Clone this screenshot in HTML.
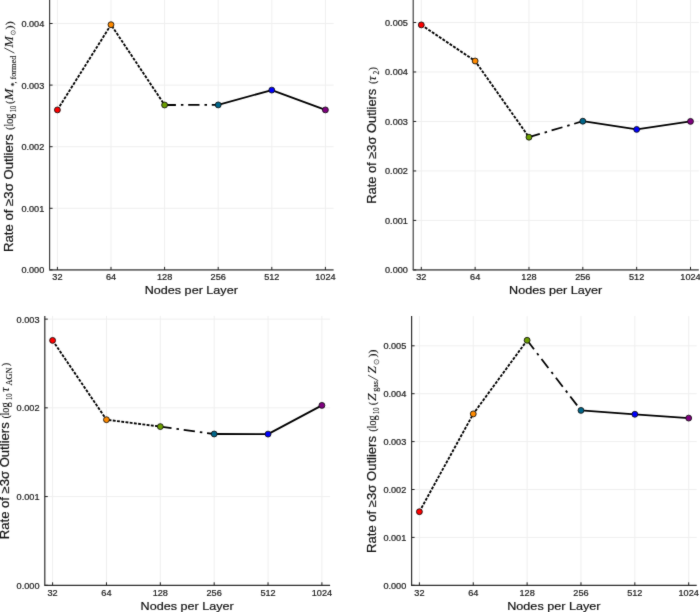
<!DOCTYPE html><html><head><meta charset="utf-8"><style>html,body{margin:0;padding:0;background:#fff;}svg{display:block;will-change:transform;}text{font-family:"Liberation Sans",sans-serif;stroke:#222;stroke-width:0.22px;}.s{font-family:"Liberation Serif",serif;stroke:#111;stroke-width:0.12px;}.i{font-style:italic;}</style></head><body>
<svg width="700" height="612" viewBox="0 0 700 612">
<defs><filter id="bl" filterUnits="userSpaceOnUse" x="0" y="0" width="700" height="612" color-interpolation-filters="sRGB"><feConvolveMatrix order="3" kernelMatrix="0.015 0.07 0.015 0.07 0.66 0.07 0.015 0.07 0.015" preserveAlpha="false" edgeMode="duplicate"/></filter></defs><g filter="url(#bl)">
<rect width="700" height="612" fill="#fff"/>
<path d="M57.4 -1V269.9M111 -1V269.9M164.6 -1V269.9M218.2 -1V269.9M271.8 -1V269.9M325.4 -1V269.9M49.6 208.3H333.6M49.6 146.7H333.6M49.6 85.1H333.6M49.6 23.5H333.6" stroke="#efefef" stroke-width="1.0" fill="none"/>
<path d="M49.6 -1V269.9" stroke="#383838" stroke-width="1.15" fill="none"/>
<path d="M49.1 269.9H333.6" stroke="#6a6a6a" stroke-width="1.8" fill="none"/>
<path d="M57.4 269.9v-3M111 269.9v-3M164.6 269.9v-3M218.2 269.9v-3M271.8 269.9v-3M325.4 269.9v-3M49.6 269.9h3M49.6 208.3h3M49.6 146.7h3M49.6 85.1h3M49.6 23.5h3" stroke="#222" stroke-width="1" fill="none"/>
<text x="52.31" y="280.4" font-size="8.6" fill="#222" textLength="10.18" lengthAdjust="spacingAndGlyphs">32</text>
<text x="105.91" y="280.4" font-size="8.6" fill="#222" textLength="10.18" lengthAdjust="spacingAndGlyphs">64</text>
<text x="156.97" y="280.4" font-size="8.6" fill="#222" textLength="15.27" lengthAdjust="spacingAndGlyphs">128</text>
<text x="210.57" y="280.4" font-size="8.6" fill="#222" textLength="15.27" lengthAdjust="spacingAndGlyphs">256</text>
<text x="264.17" y="280.4" font-size="8.6" fill="#222" textLength="15.27" lengthAdjust="spacingAndGlyphs">512</text>
<text x="315.22" y="280.4" font-size="8.6" fill="#222" textLength="20.36" lengthAdjust="spacingAndGlyphs">1024</text>
<text x="21.4" y="273.35" font-size="8.6" fill="#222" textLength="22.9" lengthAdjust="spacingAndGlyphs">0.000</text>
<text x="21.4" y="211.75" font-size="8.6" fill="#222" textLength="22.9" lengthAdjust="spacingAndGlyphs">0.001</text>
<text x="21.4" y="150.15" font-size="8.6" fill="#222" textLength="22.9" lengthAdjust="spacingAndGlyphs">0.002</text>
<text x="21.4" y="88.55" font-size="8.6" fill="#222" textLength="22.9" lengthAdjust="spacingAndGlyphs">0.003</text>
<text x="21.4" y="26.95" font-size="8.6" fill="#222" textLength="22.9" lengthAdjust="spacingAndGlyphs">0.004</text>
<text x="144.7" y="294.3" font-size="11.7" fill="#111" textLength="93.2" lengthAdjust="spacingAndGlyphs">Nodes per Layer</text>
<path d="M57.4 109.9 L111 24.7 L164.6 105" stroke="#000" stroke-width="1.85" fill="none" stroke-dasharray="2.9 1.36"/>
<path d="M164.6 105 L218.2 104.9" stroke="#000" stroke-width="1.8" fill="none" stroke-dasharray="11.3 5 2.5 4.8"/>
<path d="M218.2 104.9 L271.8 90.1 L325.4 109.9" stroke="#000" stroke-width="1.8" fill="none" stroke-linejoin="round"/>
<circle cx="57.4" cy="109.9" r="2.95" fill="#ff0000" stroke="#111" stroke-width="0.85"/>
<circle cx="111" cy="24.7" r="2.95" fill="#ff8a00" stroke="#111" stroke-width="0.85"/>
<circle cx="164.6" cy="105" r="2.95" fill="#6b9e00" stroke="#111" stroke-width="0.85"/>
<circle cx="218.2" cy="104.9" r="2.95" fill="#00668a" stroke="#111" stroke-width="0.85"/>
<circle cx="271.8" cy="90.1" r="2.95" fill="#0000ff" stroke="#111" stroke-width="0.85"/>
<circle cx="325.4" cy="109.9" r="2.95" fill="#800080" stroke="#111" stroke-width="0.85"/>
<path d="M421.3 -1V269.9M475.14 -1V269.9M528.98 -1V269.9M582.82 -1V269.9M636.66 -1V269.9M690.5 -1V269.9M413.2 220.42H698.8M413.2 170.94H698.8M413.2 121.46H698.8M413.2 71.98H698.8M413.2 22.5H698.8" stroke="#efefef" stroke-width="1.0" fill="none"/>
<path d="M413.2 -1V269.9" stroke="#383838" stroke-width="1.15" fill="none"/>
<path d="M412.7 269.9H698.8" stroke="#6a6a6a" stroke-width="1.8" fill="none"/>
<path d="M421.3 269.9v-3M475.14 269.9v-3M528.98 269.9v-3M582.82 269.9v-3M636.66 269.9v-3M690.5 269.9v-3M413.2 269.9h3M413.2 220.42h3M413.2 170.94h3M413.2 121.46h3M413.2 71.98h3M413.2 22.5h3" stroke="#222" stroke-width="1" fill="none"/>
<text x="416.21" y="280.4" font-size="8.6" fill="#222" textLength="10.18" lengthAdjust="spacingAndGlyphs">32</text>
<text x="470.05" y="280.4" font-size="8.6" fill="#222" textLength="10.18" lengthAdjust="spacingAndGlyphs">64</text>
<text x="521.35" y="280.4" font-size="8.6" fill="#222" textLength="15.27" lengthAdjust="spacingAndGlyphs">128</text>
<text x="575.19" y="280.4" font-size="8.6" fill="#222" textLength="15.27" lengthAdjust="spacingAndGlyphs">256</text>
<text x="629.03" y="280.4" font-size="8.6" fill="#222" textLength="15.27" lengthAdjust="spacingAndGlyphs">512</text>
<text x="680.32" y="280.4" font-size="8.6" fill="#222" textLength="20.36" lengthAdjust="spacingAndGlyphs">1024</text>
<text x="385" y="273.35" font-size="8.6" fill="#222" textLength="22.9" lengthAdjust="spacingAndGlyphs">0.000</text>
<text x="385" y="223.87" font-size="8.6" fill="#222" textLength="22.9" lengthAdjust="spacingAndGlyphs">0.001</text>
<text x="385" y="174.39" font-size="8.6" fill="#222" textLength="22.9" lengthAdjust="spacingAndGlyphs">0.002</text>
<text x="385" y="124.91" font-size="8.6" fill="#222" textLength="22.9" lengthAdjust="spacingAndGlyphs">0.003</text>
<text x="385" y="75.43" font-size="8.6" fill="#222" textLength="22.9" lengthAdjust="spacingAndGlyphs">0.004</text>
<text x="385" y="25.95" font-size="8.6" fill="#222" textLength="22.9" lengthAdjust="spacingAndGlyphs">0.005</text>
<text x="509.1" y="294.3" font-size="11.7" fill="#111" textLength="93.2" lengthAdjust="spacingAndGlyphs">Nodes per Layer</text>
<path d="M421.3 24.9 L475.14 61 L528.98 137.2" stroke="#000" stroke-width="1.85" fill="none" stroke-dasharray="2.9 1.36"/>
<path d="M528.98 137.2 L582.82 121.2" stroke="#000" stroke-width="1.8" fill="none" stroke-dasharray="11.3 5 2.5 4.8"/>
<path d="M582.82 121.2 L636.66 129.4 L690.5 121.4" stroke="#000" stroke-width="1.8" fill="none" stroke-linejoin="round"/>
<circle cx="421.3" cy="24.9" r="2.95" fill="#ff0000" stroke="#111" stroke-width="0.85"/>
<circle cx="475.14" cy="61" r="2.95" fill="#ff8a00" stroke="#111" stroke-width="0.85"/>
<circle cx="528.98" cy="137.2" r="2.95" fill="#6b9e00" stroke="#111" stroke-width="0.85"/>
<circle cx="582.82" cy="121.2" r="2.95" fill="#00668a" stroke="#111" stroke-width="0.85"/>
<circle cx="636.66" cy="129.4" r="2.95" fill="#0000ff" stroke="#111" stroke-width="0.85"/>
<circle cx="690.5" cy="121.4" r="2.95" fill="#800080" stroke="#111" stroke-width="0.85"/>
<path d="M52.6 315.9V585.3M106.46 315.9V585.3M160.32 315.9V585.3M214.18 315.9V585.3M268.04 315.9V585.3M321.9 315.9V585.3M44.8 496.57H330.1M44.8 407.84H330.1M44.8 319.11H330.1" stroke="#efefef" stroke-width="1.0" fill="none"/>
<path d="M44.8 315.9V585.3H330.1" stroke="#2e2e2e" stroke-width="1.2" fill="none"/>
<path d="M52.6 585.3v-3M106.46 585.3v-3M160.32 585.3v-3M214.18 585.3v-3M268.04 585.3v-3M321.9 585.3v-3M44.8 585.3h3M44.8 496.57h3M44.8 407.84h3M44.8 319.11h3" stroke="#222" stroke-width="1" fill="none"/>
<text x="47.51" y="595.8" font-size="8.6" fill="#222" textLength="10.18" lengthAdjust="spacingAndGlyphs">32</text>
<text x="101.37" y="595.8" font-size="8.6" fill="#222" textLength="10.18" lengthAdjust="spacingAndGlyphs">64</text>
<text x="152.69" y="595.8" font-size="8.6" fill="#222" textLength="15.27" lengthAdjust="spacingAndGlyphs">128</text>
<text x="206.54" y="595.8" font-size="8.6" fill="#222" textLength="15.27" lengthAdjust="spacingAndGlyphs">256</text>
<text x="260.41" y="595.8" font-size="8.6" fill="#222" textLength="15.27" lengthAdjust="spacingAndGlyphs">512</text>
<text x="311.72" y="595.8" font-size="8.6" fill="#222" textLength="20.36" lengthAdjust="spacingAndGlyphs">1024</text>
<text x="16.6" y="588.75" font-size="8.6" fill="#222" textLength="22.9" lengthAdjust="spacingAndGlyphs">0.000</text>
<text x="16.6" y="500.02" font-size="8.6" fill="#222" textLength="22.9" lengthAdjust="spacingAndGlyphs">0.001</text>
<text x="16.6" y="411.29" font-size="8.6" fill="#222" textLength="22.9" lengthAdjust="spacingAndGlyphs">0.002</text>
<text x="16.6" y="322.56" font-size="8.6" fill="#222" textLength="22.9" lengthAdjust="spacingAndGlyphs">0.003</text>
<text x="140.55" y="609.7" font-size="11.7" fill="#111" textLength="93.2" lengthAdjust="spacingAndGlyphs">Nodes per Layer</text>
<path d="M52.6 340.4 L106.46 419.7 L160.32 426.6" stroke="#000" stroke-width="1.85" fill="none" stroke-dasharray="2.9 1.36"/>
<path d="M160.32 426.6 L214.18 434" stroke="#000" stroke-width="1.8" fill="none" stroke-dasharray="11.3 5 2.5 4.8"/>
<path d="M214.18 434 L268.04 434.1 L321.9 405.4" stroke="#000" stroke-width="1.8" fill="none" stroke-linejoin="round"/>
<circle cx="52.6" cy="340.4" r="2.95" fill="#ff0000" stroke="#111" stroke-width="0.85"/>
<circle cx="106.46" cy="419.7" r="2.95" fill="#ff8a00" stroke="#111" stroke-width="0.85"/>
<circle cx="160.32" cy="426.6" r="2.95" fill="#6b9e00" stroke="#111" stroke-width="0.85"/>
<circle cx="214.18" cy="434" r="2.95" fill="#00668a" stroke="#111" stroke-width="0.85"/>
<circle cx="268.04" cy="434.1" r="2.95" fill="#0000ff" stroke="#111" stroke-width="0.85"/>
<circle cx="321.9" cy="405.4" r="2.95" fill="#800080" stroke="#111" stroke-width="0.85"/>
<path d="M419.4 316.1V585.3M473.26 316.1V585.3M527.12 316.1V585.3M580.98 316.1V585.3M634.84 316.1V585.3M688.7 316.1V585.3M411.6 537.4H696.7M411.6 489.5H696.7M411.6 441.6H696.7M411.6 393.7H696.7M411.6 345.8H696.7" stroke="#efefef" stroke-width="1.0" fill="none"/>
<path d="M411.6 316.1V585.3H696.7" stroke="#2e2e2e" stroke-width="1.2" fill="none"/>
<path d="M419.4 585.3v-3M473.26 585.3v-3M527.12 585.3v-3M580.98 585.3v-3M634.84 585.3v-3M688.7 585.3v-3M411.6 585.3h3M411.6 537.4h3M411.6 489.5h3M411.6 441.6h3M411.6 393.7h3M411.6 345.8h3" stroke="#222" stroke-width="1" fill="none"/>
<text x="414.31" y="595.8" font-size="8.6" fill="#222" textLength="10.18" lengthAdjust="spacingAndGlyphs">32</text>
<text x="468.17" y="595.8" font-size="8.6" fill="#222" textLength="10.18" lengthAdjust="spacingAndGlyphs">64</text>
<text x="519.49" y="595.8" font-size="8.6" fill="#222" textLength="15.27" lengthAdjust="spacingAndGlyphs">128</text>
<text x="573.35" y="595.8" font-size="8.6" fill="#222" textLength="15.27" lengthAdjust="spacingAndGlyphs">256</text>
<text x="627.2" y="595.8" font-size="8.6" fill="#222" textLength="15.27" lengthAdjust="spacingAndGlyphs">512</text>
<text x="678.52" y="595.8" font-size="8.6" fill="#222" textLength="20.36" lengthAdjust="spacingAndGlyphs">1024</text>
<text x="383.4" y="588.75" font-size="8.6" fill="#222" textLength="22.9" lengthAdjust="spacingAndGlyphs">0.000</text>
<text x="383.4" y="540.85" font-size="8.6" fill="#222" textLength="22.9" lengthAdjust="spacingAndGlyphs">0.001</text>
<text x="383.4" y="492.95" font-size="8.6" fill="#222" textLength="22.9" lengthAdjust="spacingAndGlyphs">0.002</text>
<text x="383.4" y="445.05" font-size="8.6" fill="#222" textLength="22.9" lengthAdjust="spacingAndGlyphs">0.003</text>
<text x="383.4" y="397.15" font-size="8.6" fill="#222" textLength="22.9" lengthAdjust="spacingAndGlyphs">0.004</text>
<text x="383.4" y="349.25" font-size="8.6" fill="#222" textLength="22.9" lengthAdjust="spacingAndGlyphs">0.005</text>
<text x="507.25" y="609.7" font-size="11.7" fill="#111" textLength="93.2" lengthAdjust="spacingAndGlyphs">Nodes per Layer</text>
<path d="M419.4 511.7 L473.26 413.9 L527.12 340.3" stroke="#000" stroke-width="1.85" fill="none" stroke-dasharray="2.9 1.36"/>
<path d="M527.12 340.3 L580.98 410.4" stroke="#000" stroke-width="1.8" fill="none" stroke-dasharray="11.3 5 2.5 4.8"/>
<path d="M580.98 410.4 L634.84 414.3 L688.7 418.1" stroke="#000" stroke-width="1.8" fill="none" stroke-linejoin="round"/>
<circle cx="419.4" cy="511.7" r="2.95" fill="#ff0000" stroke="#111" stroke-width="0.85"/>
<circle cx="473.26" cy="413.9" r="2.95" fill="#ff8a00" stroke="#111" stroke-width="0.85"/>
<circle cx="527.12" cy="340.3" r="2.95" fill="#6b9e00" stroke="#111" stroke-width="0.85"/>
<circle cx="580.98" cy="410.4" r="2.95" fill="#00668a" stroke="#111" stroke-width="0.85"/>
<circle cx="634.84" cy="414.3" r="2.95" fill="#0000ff" stroke="#111" stroke-width="0.85"/>
<circle cx="688.7" cy="418.1" r="2.95" fill="#800080" stroke="#111" stroke-width="0.85"/>
<g transform="translate(12.7,252) rotate(-90)" fill="#111"><text x="0" y="0" font-size="12" textLength="117.8" lengthAdjust="spacingAndGlyphs">Rate of ≥3σ Outliers</text><text class="s" x="122.1" y="0" font-size="11" textLength="3.4" lengthAdjust="spacingAndGlyphs">(</text><text class="s" x="125.4" y="0" font-size="12" textLength="12.8" lengthAdjust="spacingAndGlyphs">log</text><text class="s" x="139.7" y="3" font-size="7.5" textLength="6.4" lengthAdjust="spacingAndGlyphs">10</text><text class="s" x="147.9" y="0" font-size="11" textLength="3.4" lengthAdjust="spacingAndGlyphs">(</text><text class="s i" x="151.8" y="0" font-size="12" textLength="11.6" lengthAdjust="spacingAndGlyphs">M</text><text class="s" x="165.4" y="4.5" font-size="8">*</text><text class="s" x="168.4" y="2.8" font-size="8">,</text><text class="s" x="172.4" y="3.3" font-size="8" textLength="24" lengthAdjust="spacingAndGlyphs">formed</text><text class="s i" x="204.6" y="0" font-size="12" textLength="11.2" lengthAdjust="spacingAndGlyphs">M</text><text class="s" x="222.6" y="0" font-size="11" textLength="8.2" lengthAdjust="spacingAndGlyphs">))</text><circle cx="219.4" cy="0.5" r="2.1" fill="none" stroke="#111" stroke-width="0.55"/><circle cx="219.4" cy="0.5" r="0.45"/></g>
<g transform="translate(375.7,203.8) rotate(-90)" fill="#111"><text x="0" y="0" font-size="12" textLength="115.1" lengthAdjust="spacingAndGlyphs">Rate of ≥3σ Outliers</text><text class="s" x="119.8" y="0" font-size="11" textLength="3.4" lengthAdjust="spacingAndGlyphs">(</text><text class="s i" x="123.2" y="0" font-size="12">τ</text><text class="s" x="129.2" y="3.3" font-size="7.5">2</text><text class="s" x="133.4" y="0" font-size="11" textLength="3.4" lengthAdjust="spacingAndGlyphs">)</text></g>
<g transform="translate(9.1,539.2) rotate(-90)" fill="#111"><text x="0" y="0" font-size="12" textLength="116.9" lengthAdjust="spacingAndGlyphs">Rate of ≥3σ Outliers</text><text class="s" x="120.6" y="0" font-size="11" textLength="3.4" lengthAdjust="spacingAndGlyphs">(</text><text class="s" x="123.6" y="0" font-size="12" textLength="13.2" lengthAdjust="spacingAndGlyphs">log</text><text class="s" x="139.2" y="2.9" font-size="7.5" textLength="6.4" lengthAdjust="spacingAndGlyphs">10</text><text class="s i" x="147.5" y="0" font-size="12">τ</text><text class="s" x="153.8" y="3.3" font-size="8" textLength="18" lengthAdjust="spacingAndGlyphs">AGN</text><text class="s" x="172.9" y="0" font-size="11" textLength="3.4" lengthAdjust="spacingAndGlyphs">)</text></g>
<g transform="translate(376.3,552.9) rotate(-90)" fill="#111"><text x="0" y="0" font-size="12" textLength="116.9" lengthAdjust="spacingAndGlyphs">Rate of ≥3σ Outliers</text><text class="s" x="121.2" y="0" font-size="11" textLength="3.4" lengthAdjust="spacingAndGlyphs">(</text><text class="s" x="124.5" y="0" font-size="12" textLength="13" lengthAdjust="spacingAndGlyphs">log</text><text class="s" x="138.9" y="2.6" font-size="7.5" textLength="6.4" lengthAdjust="spacingAndGlyphs">10</text><text class="s" x="147.6" y="0" font-size="11" textLength="3.4" lengthAdjust="spacingAndGlyphs">(</text><text class="s i" x="151.9" y="0" font-size="12" textLength="7.6" lengthAdjust="spacingAndGlyphs">Z</text><text class="s" x="161.1" y="1.6" font-size="8.5" textLength="10.8" lengthAdjust="spacingAndGlyphs">gas</text><text class="s i" x="179.5" y="0" font-size="12" textLength="7.2" lengthAdjust="spacingAndGlyphs">Z</text><text class="s" x="195.3" y="0" font-size="11" textLength="8" lengthAdjust="spacingAndGlyphs">))</text><circle cx="191" cy="0.2" r="2.3" fill="none" stroke="#111" stroke-width="0.55"/><circle cx="191" cy="0.2" r="0.45"/></g>
<path d="M14.4 53.1L4.3 47.9M378.2 380.7L368.1 375.1" stroke="#111" stroke-width="0.8" fill="none"/>
</g></svg></body></html>
